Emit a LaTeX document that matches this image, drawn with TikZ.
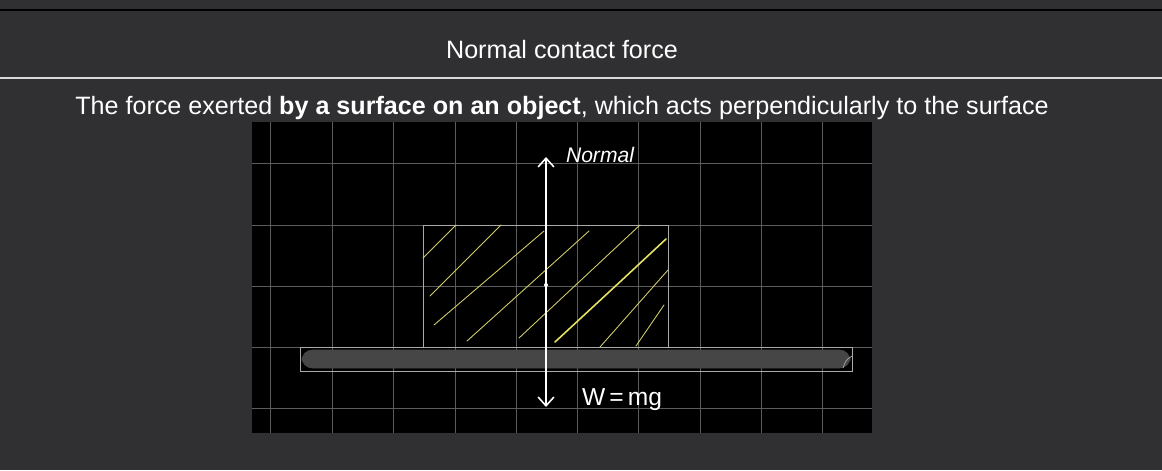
\documentclass[tikz,border=0pt]{standalone}
\usepackage[rgb]{xcolor}
\usepackage{fontspec}
\setmainfont{Liberation Sans}
\usepackage{tikz}
\usetikzlibrary{arrows.meta}

\definecolor{pagebg}{RGB}{48,48,50}
\definecolor{gridgrey}{RGB}{92,92,92}
\definecolor{boxgrey}{RGB}{170,170,170}
\definecolor{plankgrey}{RGB}{70,70,70}
\definecolor{hatchyellow}{RGB}{210,205,105}
\definecolor{boldyellow}{RGB}{232,226,100}

\begin{document}
\begin{tikzpicture}[x=0.02cm, y=-0.02cm,
  hatch/.style={hatchyellow, line width=0.5pt, line cap=round},
  force/.style={white, line width=0.9pt, -{Straight Barb[length=5pt,width=9pt]}},
  scrawl/.style={white, font=\fontsize{12}{14}\selectfont\itshape}]

\useasboundingbox (0,0) rectangle (1162,470);
\fill[pagebg] (0,0) rectangle (1162,470);


% Header
\draw[black, line width=0.8pt] (0,10) -- (1162,10);
\draw[white!85!black, line width=0.8pt] (0,78) -- (1162,78);

\path 
(562,50) node[white, font=\fontsize{14.3}{17}\selectfont] (title) {Normal contact force};

\path 
(562,108) node[white, font=\fontsize{14.3}{17}\selectfont] (caption)
  {The force exerted \textbf{by a surface on an object}, which acts perpendicularly to the surface};




% Sketch board
\fill[black] (252,122) rectangle (872,433);

\foreach \gx in {270,332,393,455,516,577,638,700,761,822}
  \draw[gridgrey, line width=0.4pt] (\gx,122) -- (\gx,433);
\foreach \gy in {163,225,286,347,408}
  \draw[gridgrey, line width=0.4pt] (252,\gy) -- (872,\gy);



% Surface
\filldraw[fill=plankgrey, draw=plankgrey, rounded corners=6pt] (302,350) rectangle (850,368);
\draw[boxgrey, line width=0.5pt] (300,347) rectangle (852,371);
\draw[boxgrey, line width=0.4pt] (843,368) .. controls (846,360) .. (852,356);



% Object
\draw[boxgrey, line width=0.5pt] (423,225) rectangle (668,347);

\draw[hatch] (423,258) -- (456,225);
\draw[hatch] (430,296) -- (501,225);
\draw[hatch] (434,325) -- (544,231);
\draw[hatch] (467,341) -- (589,231);
\draw[hatch] (519,338) -- (640,225);
\draw[hatch, boldyellow, line width=0.9pt] (555,342) -- (622,280) -- (666,239);
\draw[hatch] (600,347) -- (668,270);
\draw[hatch] (636,346) -- (664,305);



% Forces
\coordinate (cg) at (546,285);
\coordinate (uptip) at (546,157);
\coordinate (downtip) at (546,407);

\draw[force] (cg) -- (uptip);
\draw[force] (cg) -- (downtip);
\fill[white] (cg) circle [radius=2];

\path 
(600,155) node[scrawl] (normal) {Normal};

\path 
(622,400) node[scrawl, font=\fontsize{14}{16}\selectfont] (weight) {W\,=\,mg};


\end{tikzpicture}
\end{document}
